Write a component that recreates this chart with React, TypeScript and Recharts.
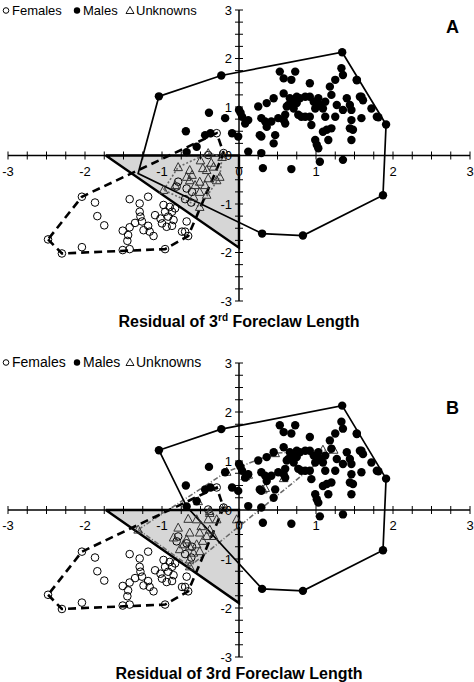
import React from "react";
import { ScatterChart, Scatter, XAxis, YAxis, ReferenceLine, ReferenceDot } from "recharts";

type Pt = [number, number];

// points shared by both panels (residuals)
const males: Pt[] = [
    [-1.04, 1.22], [-0.23, 1.65], [1.34, 2.13], [1.91, 0.64], [1.87, -0.82], [0.83, -1.65], [0.30, -1.61],
    [-0.39, 0.88], [-0.69, 0.50], [-0.44, 0.42], [-0.37, 0.46], [-0.55, 0.18], [-0.68, 0.07], [-0.18, 0.77],
    [-0.09, 0.46], [-0.01, 0.39], [0.0, 0.94], [0.04, 0.80], [0.02, 0.88], [0.08, 0.66], [0.12, 0.73],
    [0.12, 0.08], [0.29, 0.05], [0.31, -0.26], [0.68, -0.28], [1.05, -0.13], [1.35, -0.09],
    [0.53, 1.73], [0.73, 1.73], [0.58, 1.59], [0.68, 1.56], [0.92, 1.49], [1.33, 1.80], [1.35, 1.66],
    [1.25, 1.56], [1.18, 1.42], [1.20, 1.25], [1.53, 1.56], [0.25, 1.01], [0.36, 1.08], [0.45, 1.18],
    [0.58, 1.28], [0.66, 1.18], [0.75, 1.21], [0.79, 1.18], [0.62, 1.01], [0.60, 0.84], [0.71, 0.97],
    [0.75, 1.08], [0.92, 1.21], [0.97, 1.11], [1.03, 1.18], [1.05, 1.04], [1.09, 0.97], [0.99, 0.97],
    [1.12, 0.80], [0.86, 0.80], [0.77, 0.84], [0.92, 0.80], [0.94, 0.63], [1.25, 0.80], [1.27, 1.04],
    [1.40, 1.18], [1.44, 1.04], [1.46, 0.94], [1.35, 0.94], [1.57, 1.21], [1.61, 1.14], [1.72, 0.97],
    [1.79, 0.80], [1.59, 0.77], [1.46, 0.73], [1.44, 0.56], [1.48, 0.53], [1.46, 0.32], [1.20, 0.56],
    [1.14, 0.53], [1.09, 0.49], [1.16, 0.32], [0.99, 0.32], [1.01, 0.22], [1.03, 0.15], [0.58, 0.73],
    [0.60, 0.66], [0.47, 0.42], [0.45, 0.25], [0.29, 0.77], [0.34, 0.70], [0.36, 0.59], [0.29, 0.39],
    [0.27, 0.42], [0.42, 0.70], [0.64, 1.04], [0.71, 1.11], [0.86, 1.21], [1.12, 1.11], [0.51, 0.77],
    [0.81, 0.80], [1.53, 1.55], [1.59, 1.21], [1.81, 0.79],
];

const females: Pt[] = [
    [-2.48, -1.73], [-2.30, -2.02], [-2.04, -1.89], [-1.51, -1.95], [-1.42, -1.93], [-0.96, -1.93],
    [-0.66, -1.66], [-0.70, -1.57], [-2.04, -0.85], [-0.29, 0.46], [-0.20, 0.05], [-0.40, 0.01],
    [-1.87, -0.97], [-1.84, -1.25], [-1.75, -1.44], [-1.42, -0.90], [-1.29, -0.99], [-1.18, -0.85],
    [-1.29, -1.16], [-1.28, -1.26], [-1.35, -1.39], [-1.42, -1.48], [-1.51, -1.55], [-1.44, -1.64],
    [-1.45, -1.76], [-1.26, -1.36], [-1.24, -1.54], [-1.18, -1.45], [-1.16, -1.57], [-1.11, -1.66],
    [-1.09, -1.23], [-1.02, -1.30], [-1.00, -1.40], [-0.94, -1.47], [-0.87, -1.45], [-0.85, -1.33],
    [-0.92, -1.26], [-0.96, -1.16], [-0.98, -1.02], [-0.87, -1.16], [-0.83, -1.09], [-0.68, -1.36],
    [-0.74, -1.57], [-0.90, -1.06], [-0.81, -0.64], [-0.79, -0.54], [-0.68, -0.68], [-0.61, -0.75],
    [-0.70, -0.90], [-0.62, -0.97],
];

const unknownsA: Pt[] = [
    [-0.98, -0.71], [-0.79, -0.24], [-0.40, 0.05], [-0.22, -0.03], [-0.25, -0.44], [-0.51, -1.06],
    [-0.68, -0.44], [-0.61, -0.40], [-0.64, -0.51], [-0.57, -0.61], [-0.51, -0.54], [-0.44, -0.61],
    [-0.40, -0.47], [-0.29, -0.51], [-0.33, -0.23], [-0.42, -0.30], [-0.51, -0.75], [-0.42, -0.81],
    [-0.59, -0.85], [-0.47, -0.26], [-0.83, -0.61], [-0.64, -0.30], [-0.50, -0.10], [-0.36, -0.15],
];

const unknownsB: Pt[] = [
    [-1.31, -0.40], [-0.16, 0.78], [0.47, 1.16], [1.23, 1.23], [-0.64, -1.15],
    [0.08, 0.69], [0.12, 0.72], [0.31, 0.42], [0.58, 0.65], [0.34, 0.45], [-0.53, 0.18], [-0.20, 0.04],
    [-0.38, -0.02], [1.09, 1.23], [-0.66, -0.18], [-0.79, -0.36], [-0.85, -0.56], [-0.55, -0.19],
    [-0.38, -0.06], [-0.40, -0.19], [-0.29, -0.19], [-0.49, -0.33], [-0.51, -0.46], [-0.42, -0.53],
    [-0.38, -0.40], [-0.64, -0.46], [-0.68, -0.60], [-0.72, -0.70], [-0.77, -0.80], [-0.64, -0.74],
    [-0.55, -0.70], [-0.47, -0.63], [-0.33, -0.53], [-0.59, -0.87], [-0.64, -1.01], [-0.51, -0.84],
    [-0.03, -0.19],
];

// polygons
const maleHullA: Pt[] = [[-1.04, 1.22], [-0.23, 1.65], [1.34, 2.13], [1.91, 0.64], [1.87, -0.82], [0.83, -1.65], [0.30, -1.61], [-1.31, -0.37]];
const maleHullB: Pt[] = [[-1.04, 1.22], [-0.23, 1.65], [1.34, 2.13], [1.91, 0.64], [1.87, -0.82], [0.83, -1.65], [0.30, -1.61], [-0.68, 0.07]];
const femaleHull: Pt[] = [[-2.48, -1.73], [-2.30, -2.02], [-0.96, -1.93], [-0.66, -1.66], [-0.20, 0.05], [-0.29, 0.46], [-2.04, -0.85]];
const unknownHullA: Pt[] = [[-0.98, -0.71], [-0.79, -0.24], [-0.40, 0.05], [-0.22, -0.03], [-0.25, -0.44], [-0.51, -1.06]];
const unknownHullB: Pt[] = [[-1.31, -0.40], [-0.16, 0.78], [0.47, 1.16], [1.23, 1.23], [-0.64, -1.15]];
const shadedTriangle: Pt[] = [[-1.73, 0], [0, 0], [0, -1.9]];

const tickLabels = [-3, -2, -1, 0, 1, 2, 3];
const minorTicks = [-3, -2.75, -2.5, -2.25, -2, -1.75, -1.5, -1.25, -1, -0.75, -0.5, -0.25,
    0.25, 0.5, 0.75, 1, 1.25, 1.5, 1.75, 2, 2.25, 2.5, 2.75, 3];

const toXY = (a: Pt[]) => a.map(([x, y]) => ({ x, y }));
const closed = (a: Pt[]) => toXY([...a, a[0]]);

const FONT = "'Liberation Sans', Arial, sans-serif";

const Dot = (p: any) => <circle cx={p.cx} cy={p.cy} r={4.2} fill="#000" />;
const Ring = (p: any) => <circle cx={p.cx} cy={p.cy} r={3.8} fill="none" stroke="#000" strokeWidth={1} />;
const Tri = (p: any) => (
    <path d={`M${p.cx},${p.cy - 4.5}L${p.cx + 4.3},${p.cy + 3.5}L${p.cx - 4.3},${p.cy + 3.5}Z`}
        fill="none" stroke="#333" strokeWidth={1} />
);
const NoMark = () => <g />;

function Panel({ top, height, margin, maleHull, unknowns, unknownHull, unknownDash, letter, letterY, legendY, legendSize, titleY, title }: any) {
    return (
        <div style={{ position: "absolute", left: 0, top, width: 474, height }}>
            <ScatterChart width={474} height={height} margin={margin}>
                <XAxis type="number" dataKey="x" domain={[-3, 3]} allowDataOverflow hide />
                <YAxis type="number" dataKey="y" domain={[-3, 3]} allowDataOverflow hide />

                <Scatter data={closed(shadedTriangle)} shape={NoMark} isAnimationActive={false}
                    line={{ stroke: "#000", strokeWidth: 2.4, fill: "#d6d6d6" }} />
                <Scatter data={closed(unknownHull)} shape={NoMark} isAnimationActive={false}
                    line={{ stroke: "#6a6a6a", strokeWidth: 1.6, strokeDasharray: unknownDash }} />
                <Scatter data={closed(femaleHull)} shape={NoMark} isAnimationActive={false}
                    line={{ stroke: "#000", strokeWidth: 2.6, strokeDasharray: "8 5" }} />
                <Scatter data={closed(maleHull)} shape={NoMark} isAnimationActive={false}
                    line={{ stroke: "#000", strokeWidth: 1.7 }} />

                <Scatter data={toXY(females)} shape={Ring} isAnimationActive={false} />
                <Scatter data={toXY(unknowns)} shape={Tri} isAnimationActive={false} />
                <Scatter data={toXY(males)} shape={Dot} isAnimationActive={false} />

                <ReferenceLine y={0} stroke="#000" strokeWidth={1.5} />
                <ReferenceLine x={0} stroke="#000" strokeWidth={1.5} />
                {minorTicks.map((t) => (
                    <ReferenceDot key={"xt" + t} x={t} y={0} r={0} ifOverflow="visible"
                        shape={(p: any) => <line x1={p.cx} x2={p.cx} y1={p.cy - 4} y2={p.cy + 4} stroke="#000" strokeWidth={1} />} />
                ))}
                {minorTicks.map((t) => (
                    <ReferenceDot key={"yt" + t} x={0} y={t} r={0} ifOverflow="visible"
                        shape={(p: any) => <line x1={p.cx - 4} x2={p.cx + 4} y1={p.cy} y2={p.cy} stroke="#000" strokeWidth={1} />} />
                ))}
                {tickLabels.map((t) => (
                    <ReferenceDot key={"xl" + t} x={t} y={0} r={0} ifOverflow="visible"
                        shape={(p: any) => <text x={p.cx} y={p.cy + 20} textAnchor="middle" fontSize={13} fontFamily={FONT}>{t}</text>} />
                ))}
                {tickLabels.map((t) => (
                    <ReferenceDot key={"yl" + t} x={0} y={t} r={0} ifOverflow="visible"
                        shape={(p: any) => <text x={p.cx - 7} y={p.cy + 4.5} textAnchor="end" fontSize={13} fontFamily={FONT}>{t}</text>} />
                ))}
            </ScatterChart>
            <svg width={474} height={height} style={{ position: "absolute", left: 0, top: 0, pointerEvents: "none" }}>
                <g fontFamily={FONT} fontSize={legendSize}>
                    <circle cx={6} cy={legendY - 4.5} r={2.8} fill="none" stroke="#000" strokeWidth={1} />
                    <text x={12} y={legendY}>Females</text>
                    <circle cx={77} cy={legendY - 4.5} r={3.2} fill="#000" />
                    <text x={83} y={legendY}>Males</text>
                    <path d={`M130,${legendY - 8.5}L134,${legendY - 1.5}L126,${legendY - 1.5}Z`} fill="none" stroke="#000" strokeWidth={0.9} />
                    <text x={136} y={legendY}>Unknowns</text>
                </g>
                <text x={446} y={letterY} fontFamily={FONT} fontSize={18} fontWeight="bold">{letter}</text>
                <text x={239} y={titleY} textAnchor="middle" fontFamily={FONT} fontSize={16} fontWeight="bold">{title}</text>
            </svg>
        </div>
    );
}

export default function App() {
    return (
        <div style={{ position: "relative", width: 474, height: 682, background: "#fff" }}>
            <style>{"body{margin:0}"}</style>
            <Panel top={0} height={340} margin={{ top: 10, right: 4, bottom: 39, left: 8 }}
                maleHull={maleHullA} unknowns={unknownsA} unknownHull={unknownHullA} unknownDash="2 2"
                letter="A" letterY={33} legendY={15} legendSize={13} titleY={327}
                title={<>Residual of 3<tspan fontSize={10} dy={-6}>rd</tspan><tspan dy={6}> Foreclaw Length</tspan></>} />
            <Panel top={340} height={342} margin={{ top: 23, right: 4, bottom: 25, left: 8 }}
                maleHull={maleHullB} unknowns={unknownsB} unknownHull={unknownHullB} unknownDash="5 2 1 2"
                letter="B" letterY={74} legendY={27} legendSize={14} titleY={339}
                title="Residual of 3rd Foreclaw Length" />
        </div>
    );
}
